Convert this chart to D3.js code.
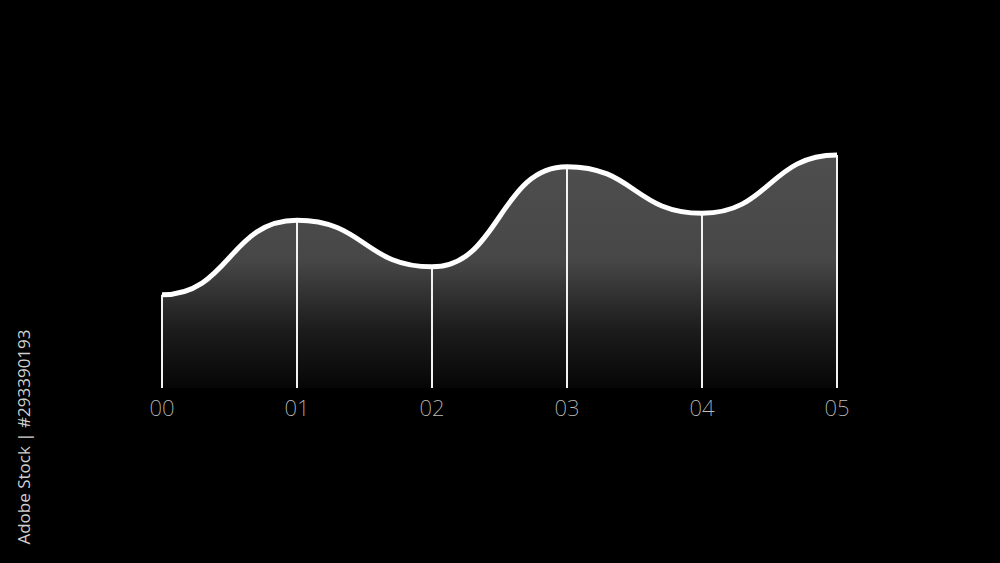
<!DOCTYPE html>
<html>
<head>
<meta charset="utf-8">
<script src="https://cdn.jsdelivr.net/npm/d3@7"></script>
<style>
  html, body { margin: 0; padding: 0; background: #000; }
  svg { display: block; }
</style>
</head>
<body>
<script>
// chart values
var labels = ["00", "01", "02", "03", "04", "05"];
var values = [40, 72, 52, 95, 75, 100];
var stockId = "Adobe Stock | #293390193";

var width = 1000,
    height = 563;

var svg = d3.select("body")
  .append("svg")
    .attr("width", width)
    .attr("height", height);

svg.append("rect")
    .attr("width", width)
    .attr("height", height)
    .attr("fill", "#000");

var x = d3.scalePoint()
    .domain(labels)
    .range([162, 837]);

var y = d3.scaleLinear()
    .domain([0, 100])
    .range([388, 155]);

var data = labels.map(function (d, i) { return { label: d, value: values[i] }; });

// gradient for the area
var grad = svg.append("defs")
  .append("linearGradient")
    .attr("id", "fillGrad")
    .attr("gradientUnits", "userSpaceOnUse")
    .attr("x1", 0).attr("y1", y(100))
    .attr("x2", 0).attr("y2", y(0));
grad.append("stop").attr("offset", "0%").attr("stop-color", "#4e4e4e");
grad.append("stop").attr("offset", "45%").attr("stop-color", "#474747");
grad.append("stop").attr("offset", "75%").attr("stop-color", "#1c1c1c");
grad.append("stop").attr("offset", "100%").attr("stop-color", "#060606");

// flat tangent at every point, like the reference
var area = d3.area()
    .x(function (d) { return x(d.label); })
    .y0(y(0))
    .y1(function (d) { return y(d.value); })
    .curve(d3.curveBumpX);

var line = d3.line()
    .x(function (d) { return x(d.label); })
    .y(function (d) { return y(d.value); })
    .curve(d3.curveBumpX);

svg.append("path")
    .datum(data)
    .attr("d", area)
    .attr("fill", "url(#fillGrad)");

// vertical drop lines
svg.selectAll("line.drop")
    .data(data)
  .enter()
  .append("line")
    .attr("class", "drop")
    .attr("x1", function (d) { return x(d.label); })
    .attr("x2", function (d) { return x(d.label); })
    .attr("y1", function (d) { return y(d.value); })
    .attr("y2", y(0))
    .attr("stroke", "#f2f2f2")
    .attr("stroke-width", 2);

svg.append("path")
    .datum(data)
    .attr("d", line)
    .attr("fill", "none")
    .attr("stroke", "#fff")
    .attr("stroke-width", 5)
    .attr("stroke-linecap", "butt");

// x axis labels
svg.selectAll("text.tick")
    .data(labels)
  .enter()
  .append("text")
    .attr("class", "tick")
    .attr("x", function (d) { return x(d); })
    .attr("y", 416)
    .attr("text-anchor", "middle")
    .style("font-family", "'Noto Sans', 'Open Sans', sans-serif")
    .style("font-weight", 200)
    .style("font-size", "22px")
    .attr("fill", "#bdbdbd")
    .text(function (d) { return d; });

// stock id on the left edge
svg.append("text")
    .attr("transform", "translate(30,437) rotate(-90)")
    .attr("text-anchor", "middle")
    .style("font-family", "'Open Sans', sans-serif")
    .style("font-size", "17px")
    .attr("fill", "#d0d0d0")
    .text(stockId);
</script>
</body>
</html>
